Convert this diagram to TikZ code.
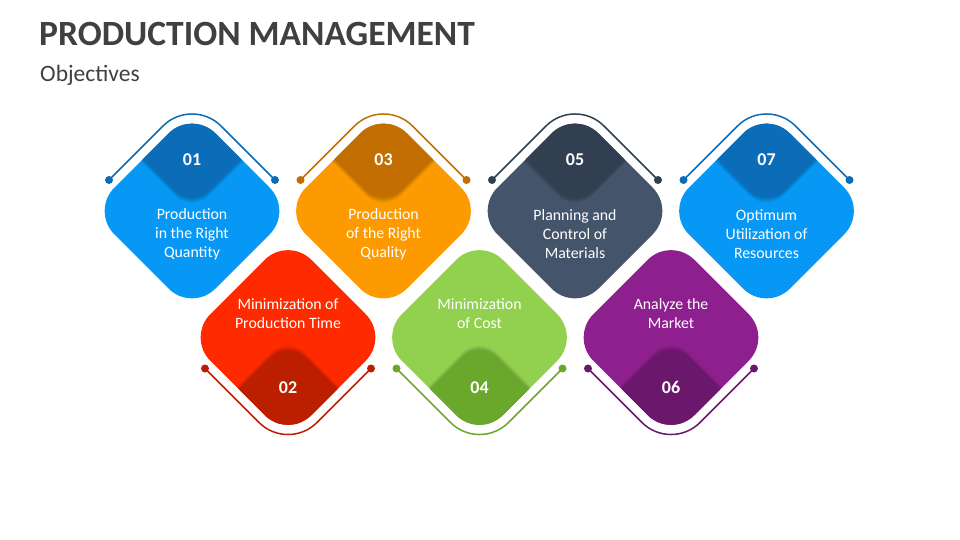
\documentclass[tikz,border=0pt]{standalone}
\usepackage{fontspec}
\setmainfont{Carlito}
\definecolor{titlegray}{HTML}{404040}
\definecolor{bluemain}{HTML}{0798F5}
\definecolor{bluedark}{HTML}{0B6DB8}
\definecolor{orangemain}{HTML}{FD9A00}
\definecolor{orangedark}{HTML}{C26E00}
\definecolor{slatemain}{HTML}{44546A}
\definecolor{slatedark}{HTML}{323F50}
\definecolor{redmain}{HTML}{FF2A00}
\definecolor{reddark}{HTML}{BC1E00}
\definecolor{greenmain}{HTML}{92D050}
\definecolor{greendark}{HTML}{6AA82C}
\definecolor{purplemain}{HTML}{8E1F8E}
\definecolor{purpledark}{HTML}{6A176C}
\tikzset{
  numtext/.style={text=white, font=\bfseries\fontsize{18}{20}\selectfont, inner sep=0pt},
  bodytext/.style={text=white, align=center, font=\fontsize{15.8}{18.8}\selectfont, inner sep=0pt},
  arcline/.style={line width=1.5pt, rounded corners=41pt},
}
% #1 name, #2 cx, #3 cy, #4 main colour, #5 dark colour, #6 number, #7 text
\newcommand\topitem[7]{%
  \begin{scope}
    \path[clip, rounded corners=33pt] ({#2-50.5},{#3-50.5}) -- ({#2},{#3-101}) -- ({#2+101},{#3}) -- ({#2},{#3+101}) -- ({#2-101},{#3}) -- cycle;
    \fill[#4] ({#2-110},{#3-110}) rectangle ({#2+110},{#3+110});
    \foreach \k/\o in {5/0.05,3.5/0.07,2/0.09}{
      \fill[black, opacity=\o, rounded corners=25pt, shift={(0,\k)}] ({#2-70},{#3-73}) -- ({#2},{#3-3}) -- ({#2+70},{#3-73}) -- ({#2+70},{#3-140}) -- ({#2-70},{#3-140}) -- cycle;
    }
    \fill[#5, rounded corners=25pt] ({#2-70},{#3-73}) -- ({#2},{#3-3}) -- ({#2+70},{#3-73}) -- ({#2+70},{#3-140}) -- ({#2-70},{#3-140}) -- cycle;
  \end{scope}
  \coordinate (#1l) at ({#2-83},{#3-31});
  \coordinate (#1t) at ({#2},{#3-114});
  \coordinate (#1r) at ({#2+83},{#3-31});
  \draw[#5, arcline] (#1l) -- (#1t) -- (#1r);
  \fill[#5] (#1l) circle (4pt) (#1r) circle (4pt);
  \node[numtext] (#1num) at ({#2},{#3-51}) {#6};
  \node[bodytext] (#1txt) at ({#2},{#3+23}) {#7};
}
\newcommand\botitem[7]{%
  \begin{scope}
    \path[clip, rounded corners=33pt] ({#2-50.5},{#3-50.5}) -- ({#2},{#3-101}) -- ({#2+101},{#3}) -- ({#2},{#3+101}) -- ({#2-101},{#3}) -- cycle;
    \fill[#4] ({#2-110},{#3-110}) rectangle ({#2+110},{#3+110});
    \foreach \k/\o in {5/0.05,3.5/0.07,2/0.09}{
      \fill[black, opacity=\o, rounded corners=25pt, shift={(0,-\k)}] ({#2-70},{#3+73}) -- ({#2},{#3+3}) -- ({#2+70},{#3+73}) -- ({#2+70},{#3+140}) -- ({#2-70},{#3+140}) -- cycle;
    }
    \fill[#5, rounded corners=25pt] ({#2-70},{#3+73}) -- ({#2},{#3+3}) -- ({#2+70},{#3+73}) -- ({#2+70},{#3+140}) -- ({#2-70},{#3+140}) -- cycle;
  \end{scope}
  \coordinate (#1l) at ({#2-83},{#3+31});
  \coordinate (#1b) at ({#2},{#3+114});
  \coordinate (#1r) at ({#2+83},{#3+31});
  \draw[#5, arcline] (#1l) -- (#1b) -- (#1r);
  \fill[#5] (#1l) circle (4pt) (#1r) circle (4pt);
  \node[numtext] (#1num) at ({#2},{#3+50}) {#6};
  \node[bodytext] (#1txt) at ({#2},{#3-24}) {#7};
}
\begin{document}
\begin{tikzpicture}[x=1pt, y=-1pt]
  \fill[white] (0,0) rectangle (960,540);
  \useasboundingbox (0,0) rectangle (960,540);
  \node[anchor=base west, inner sep=0pt, text=titlegray, font=\bfseries\fontsize{35.5}{40}\selectfont] (title) at (39,45.5) {PRODUCTION MANAGEMENT};
  \node[anchor=base west, inner sep=0pt, text=titlegray, font=\fontsize{23.5}{26}\selectfont] (subtitle) at (40,81.5) {Objectives};

  \topitem{a}{192}{211}{bluemain}{bluedark}{01}{Production\\in the Right\\Quantity}
  \topitem{c}{383.5}{211}{orangemain}{orangedark}{03}{Production\\of the Right\\Quality}
  \topitem{e}{575}{211}{slatemain}{slatedark}{05}{Planning and\\Control of\\Materials}
  \topitem{g}{766.5}{211}{bluemain}{bluedark}{07}{Optimum\\Utilization of\\Resources}
  \botitem{b}{288}{337.5}{redmain}{reddark}{02}{Minimization of\\Production Time}
  \botitem{d}{479.5}{337.5}{greenmain}{greendark}{04}{Minimization\\of Cost}
  \botitem{f}{671}{337.5}{purplemain}{purpledark}{06}{Analyze the\\Market}
\end{tikzpicture}
\end{document}
